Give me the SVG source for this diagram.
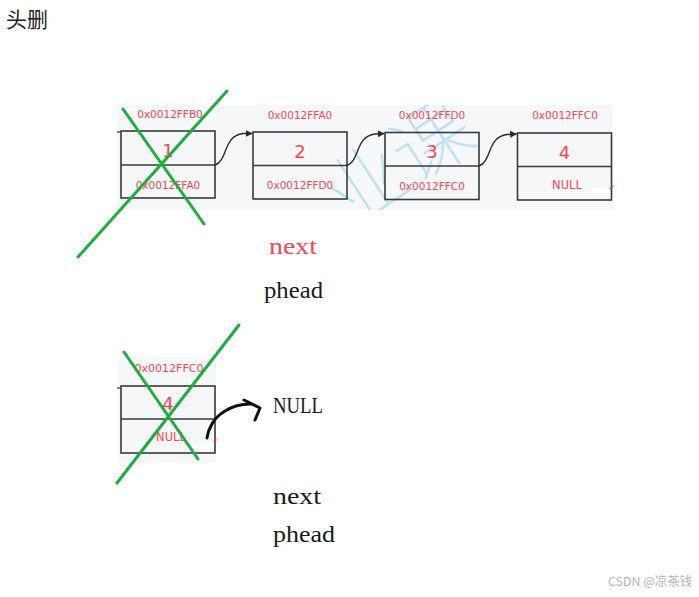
<svg xmlns="http://www.w3.org/2000/svg" width="699" height="597" viewBox="0 0 699 597">
<style>
.panel{fill:#f6f7f9}
.box{fill:none;stroke:#3a3a3a;stroke-width:1.6}
.addr{font-family:"DejaVu Sans",sans-serif;font-size:10.5px;fill:#f5484f;text-anchor:middle}
.num{font-family:"DejaVu Sans",sans-serif;font-size:18px;fill:#f5484f;text-anchor:middle}
.nul{font-family:"DejaVu Sans",sans-serif;font-size:11.5px;fill:#f5484f;text-anchor:middle}
.ser{font-family:"Liberation Serif",serif;font-size:23px;fill:#1a1a1a}
.green{stroke:#1fae3e;stroke-width:3;stroke-linecap:round;fill:none}
.conn{fill:none;stroke:#2a2a2a;stroke-width:1.4}
</style>
<defs>
<marker id="ah" viewBox="0 0 10 10" refX="9" refY="5" markerWidth="7" markerHeight="7" orient="auto" markerUnits="userSpaceOnUse">
<path d="M0,0 L10,5 L0,10 z" fill="#2a2a2a"/>
</marker>
<clipPath id="pclip"><rect x="117" y="105" width="496" height="105"/></clipPath>
</defs>
<rect width="699" height="597" fill="#ffffff"/>
<text x="6" y="27" font-family="'Noto Sans CJK SC',sans-serif" font-size="21" fill="#222">头删</text>

<rect class="panel" x="117" y="105" width="496" height="105"/>
<g clip-path="url(#pclip)">
<text transform="translate(395,158) rotate(-33)" font-family="'Noto Sans CJK SC',sans-serif" font-weight="100" font-size="80" fill="#bde1f4" text-anchor="middle" dominant-baseline="central">业课</text>
</g>

<g id="node1">
<text class="addr" x="170" y="118">0x0012FFB0</text>
<rect class="box" x="121" y="131" width="94" height="67"/>
<line class="box" x1="121" y1="165" x2="215" y2="165"/>
<text class="num" x="168" y="157">1</text>
<text class="addr" x="168" y="188.5">0x0012FFA0</text>
<line x1="117" y1="132" x2="121" y2="132" stroke="#333" stroke-width="1.2"/>
</g>
<g id="node2">
<text class="addr" x="300" y="119">0x0012FFA0</text>
<rect class="box" x="253" y="132" width="94" height="67"/>
<line class="box" x1="253" y1="165.5" x2="347" y2="165.5"/>
<text class="num" x="300" y="157.5">2</text>
<text class="addr" x="300" y="189">0x0012FFD0</text>
</g>
<g id="node3">
<text class="addr" x="432" y="119">0x0012FFD0</text>
<rect class="box" x="385" y="132.5" width="94" height="67"/>
<line class="box" x1="385" y1="166" x2="479" y2="166"/>
<text class="num" x="432" y="158">3</text>
<text class="addr" x="432" y="189.5">0x0012FFC0</text>
</g>
<g id="node4">
<text class="addr" x="565" y="119">0x0012FFC0</text>
<rect class="box" x="517.5" y="133" width="94" height="67"/>
<line class="box" x1="517.5" y1="166.5" x2="611.5" y2="166.5"/>
<text class="num" x="564.5" y="158.5">4</text>
<text class="nul" x="567" y="189">NULL</text>
<rect x="591" y="188" width="18" height="5" fill="#ffffff"/>
<line x1="610" y1="189" x2="613" y2="186" stroke="#f03030" stroke-width="1.5"/>
</g>

<g id="connectors">
<path class="conn" d="M215,165 C228,160 223,136 243,133.5 L252,133.5" marker-end="url(#ah)"/>
<path class="conn" d="M347,165.5 C360,160.5 355,136.5 375,134 L384,133.5" marker-end="url(#ah)"/>
<path class="conn" d="M479,166 C492,161 487,137 507,134.5 L516.5,134" marker-end="url(#ah)"/>
</g>

<g id="cross1">
<line class="green" x1="78" y1="257" x2="227" y2="91"/>
<line class="green" x1="123" y1="109" x2="204" y2="224"/>
</g>

<text class="ser" x="269" y="254" style="fill:#f04a54" textLength="48" lengthAdjust="spacingAndGlyphs">next</text>
<text class="ser" x="264" y="298" textLength="59" lengthAdjust="spacingAndGlyphs">phead</text>

<rect class="panel" x="118" y="357" width="98" height="106"/>
<g id="node4b">
<text class="addr" x="169" y="372" style="font-size:11px">0x0012FFC0</text>
<rect class="box" x="121" y="386" width="94" height="67"/>
<line class="box" x1="121" y1="419" x2="215" y2="419"/>
<text class="num" x="168" y="410">4</text>
<text class="nul" x="171" y="441">NULL</text>
<line x1="117" y1="388" x2="121" y2="388" stroke="#333" stroke-width="1.2"/>
<rect x="193" y="443" width="19" height="6" fill="#ffffff"/>
<line x1="214" y1="442" x2="216" y2="439" stroke="#f03030" stroke-width="1.5"/>
</g>

<g id="cross2">
<line class="green" x1="117" y1="483" x2="239" y2="325"/>
<line class="green" x1="124" y1="352" x2="198" y2="459"/>
</g>

<g id="handarrow">
<path d="M207,438 C208,430 213,418 225,411 C233,406 240,404 250,404" fill="none" stroke="#111" stroke-width="3" stroke-linecap="round"/>
<path d="M244,400 L260,408 L255,420" fill="none" stroke="#111" stroke-width="3" stroke-linecap="round" stroke-linejoin="round"/>
</g>

<text class="ser" x="273" y="413" textLength="50" lengthAdjust="spacingAndGlyphs">NULL</text>
<text class="ser" x="273" y="504" textLength="48" lengthAdjust="spacingAndGlyphs">next</text>
<text class="ser" x="273" y="542" textLength="62" lengthAdjust="spacingAndGlyphs">phead</text>

<text x="608" y="586" font-family="'Noto Sans CJK SC',sans-serif" font-size="12" fill="#b5b5b5" textLength="84" lengthAdjust="spacingAndGlyphs">CSDN @凉茶钱</text>
</svg>
